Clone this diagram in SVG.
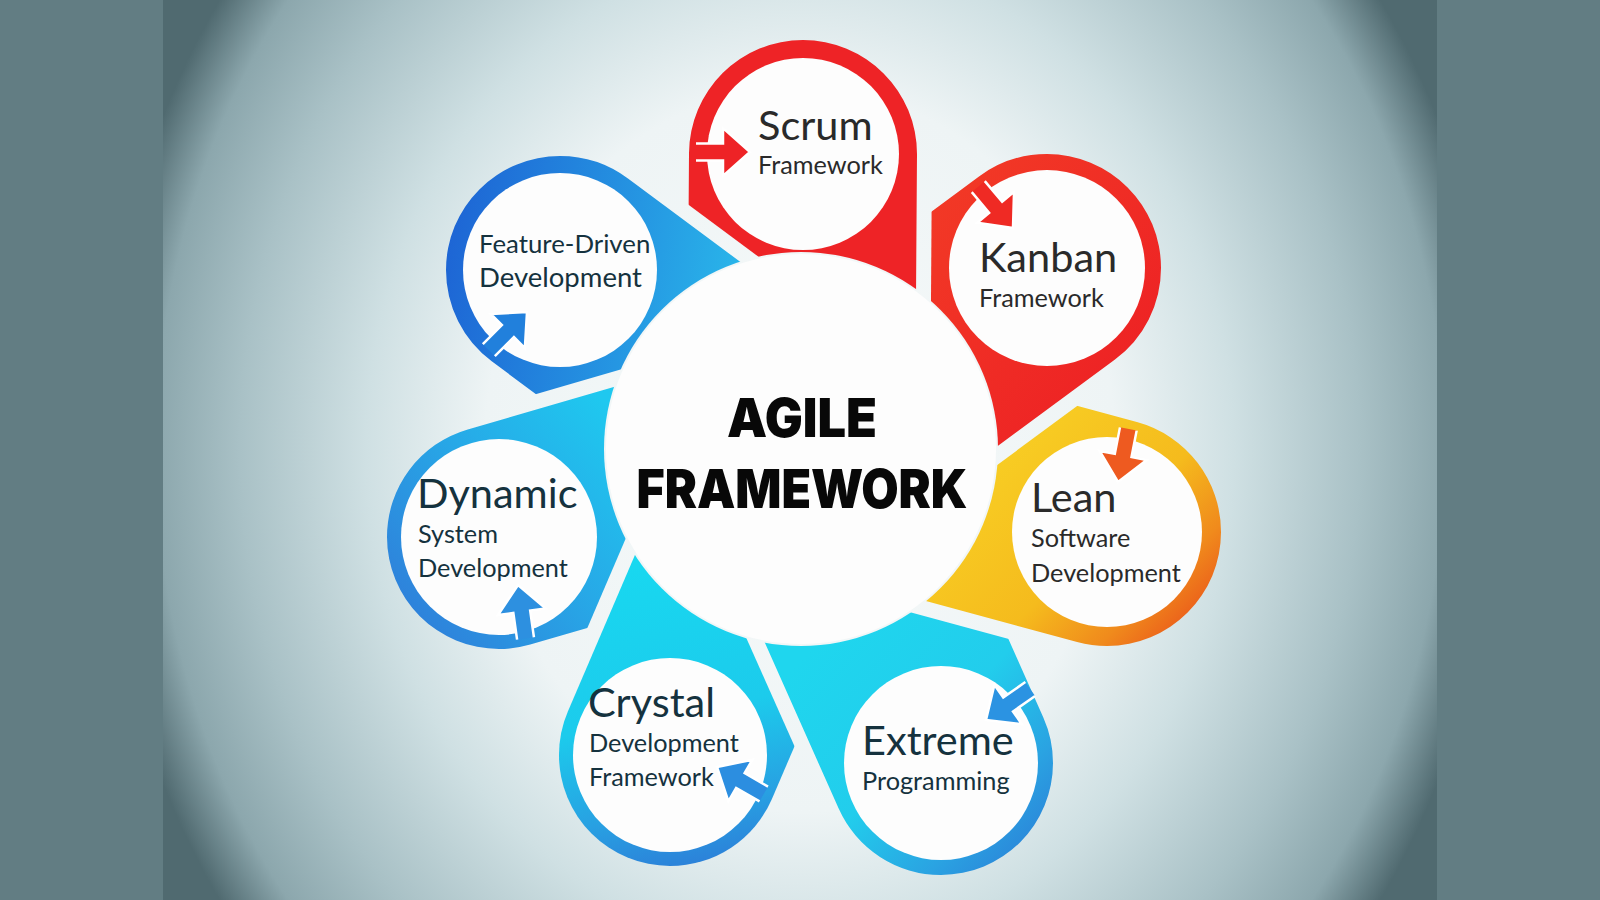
<svg xmlns="http://www.w3.org/2000/svg" width="1600" height="900" viewBox="0 0 1600 900">
<style>
.t1{font-family:Lato,"Liberation Sans",sans-serif;font-size:41.5px;}
.t2{font-family:Lato,"Liberation Sans",sans-serif;font-size:25.3px;}
.dk{fill:#2a2a2a;}
.bl{fill:#15323e;}
.title{font-family:Inter,Roboto,"DejaVu Sans",sans-serif;font-weight:900;font-size:54px;fill:#080808;text-anchor:middle;}
.inner{fill:#fdfdfd;}
.arr{stroke:#ffffff;stroke-width:2.5;stroke-linejoin:miter;}
</style>
<defs>
<radialGradient id="bg" gradientUnits="userSpaceOnUse" cx="800" cy="450" r="700" gradientTransform="translate(800 450) scale(1 1.15) translate(-800 -450)">
<stop offset="0" stop-color="#f7fafa"/>
<stop offset="0.45" stop-color="#eef4f5"/>
<stop offset="0.62" stop-color="#cfe0e3"/>
<stop offset="0.8" stop-color="#a9c1c6"/>
<stop offset="0.92" stop-color="#8ca7ad"/>
<stop offset="1" stop-color="#506a70"/>
</radialGradient>
<linearGradient id="g-kanban" gradientUnits="userSpaceOnUse" x1="930" y1="180" x2="1160" y2="380"><stop offset="0" stop-color="#f23a26"/><stop offset="1" stop-color="#ed2024"/></linearGradient>
<linearGradient id="g-lean" gradientUnits="userSpaceOnUse" x1="990" y1="440" x2="1200" y2="650"><stop offset="0" stop-color="#f8cf24"/><stop offset="0.5" stop-color="#f5bb1d"/><stop offset="0.75" stop-color="#f08a1c"/><stop offset="1" stop-color="#e8441a"/></linearGradient>
<linearGradient id="g-extreme" gradientUnits="userSpaceOnUse" x1="820" y1="640" x2="1050" y2="860"><stop offset="0" stop-color="#1fd6ee"/><stop offset="0.45" stop-color="#22cdec"/><stop offset="0.75" stop-color="#2aa3e2"/><stop offset="1" stop-color="#2b7bd6"/></linearGradient>
<linearGradient id="g-crystal" gradientUnits="userSpaceOnUse" x1="640" y1="560" x2="700" y2="870"><stop offset="0" stop-color="#18d8f0"/><stop offset="0.5" stop-color="#1ccbec"/><stop offset="0.8" stop-color="#28a0e2"/><stop offset="1" stop-color="#2c7ed8"/></linearGradient>
<linearGradient id="g-dynamic" gradientUnits="userSpaceOnUse" x1="620" y1="420" x2="390" y2="620"><stop offset="0" stop-color="#1fc8ef"/><stop offset="0.45" stop-color="#27a9e7"/><stop offset="1" stop-color="#2f7cd9"/></linearGradient>
<linearGradient id="g-feature" gradientUnits="userSpaceOnUse" x1="760" y1="280" x2="440" y2="230"><stop offset="0" stop-color="#2abbeb"/><stop offset="0.4" stop-color="#2596e2"/><stop offset="1" stop-color="#1d63d4"/></linearGradient>

<mask id="cm" maskUnits="userSpaceOnUse" x="0" y="0" width="1600" height="900">
<rect x="0" y="0" width="1600" height="900" fill="#fff"/>
<circle cx="801" cy="449" r="197" fill="#000"/>
</mask>

<!-- petal shapes: circle + tail strip toward center -->
<clipPath id="s-scrum" clipPathUnits="userSpaceOnUse"><circle cx="803" cy="154" r="114"/><rect x="-114" y="0" width="228" height="335" transform="translate(803 154) rotate(0.4)"/></clipPath>
<clipPath id="s-kanban" clipPathUnits="userSpaceOnUse"><circle cx="1047" cy="268" r="114"/><rect x="-114" y="0" width="228" height="345" transform="translate(1047 268) rotate(53.6)"/></clipPath>
<clipPath id="s-lean" clipPathUnits="userSpaceOnUse"><circle cx="1107" cy="532" r="114"/><rect x="-114" y="0" width="228" height="357" transform="translate(1107 532) rotate(105.2)"/></clipPath>
<clipPath id="s-extreme" clipPathUnits="userSpaceOnUse"><circle cx="941" cy="763" r="112"/><rect x="-112" y="0" width="224" height="384" transform="translate(941 763) rotate(156)"/></clipPath>
<clipPath id="s-crystal" clipPathUnits="userSpaceOnUse"><circle cx="670" cy="755" r="111"/><rect x="-111" y="0" width="222" height="373" transform="translate(670 755) rotate(203.2)"/></clipPath>
<clipPath id="s-dynamic" clipPathUnits="userSpaceOnUse"><circle cx="499" cy="537" r="112"/><rect x="-112" y="0" width="224" height="355" transform="translate(499 537) rotate(253.8)"/></clipPath>
<clipPath id="s-feature" clipPathUnits="userSpaceOnUse"><circle cx="560" cy="270" r="114"/><rect x="-114" y="0" width="228" height="340" transform="translate(560 270) rotate(306.6)"/></clipPath>

<!-- half-planes beyond the previous petal's tangent edge (white separators) -->
<clipPath id="h-scrum" clipPathUnits="userSpaceOnUse"><rect x="129" y="-1500" width="3000" height="3000" transform="translate(560 270) rotate(306.6)"/></clipPath>
<clipPath id="h-kanban" clipPathUnits="userSpaceOnUse"><rect x="129" y="-1500" width="3000" height="3000" transform="translate(803 154) rotate(0.4)"/></clipPath>
<clipPath id="h-lean" clipPathUnits="userSpaceOnUse"><rect x="129" y="-1500" width="3000" height="3000" transform="translate(1047 268) rotate(53.6)"/></clipPath>
<clipPath id="h-extreme" clipPathUnits="userSpaceOnUse"><rect x="129" y="-1500" width="3000" height="3000" transform="translate(1107 532) rotate(105.2)"/></clipPath>
<clipPath id="h-crystal" clipPathUnits="userSpaceOnUse"><rect x="127" y="-1500" width="3000" height="3000" transform="translate(941 763) rotate(156)"/></clipPath>
<clipPath id="h-dynamic" clipPathUnits="userSpaceOnUse"><rect x="126" y="-1500" width="3000" height="3000" transform="translate(670 755) rotate(203.2)"/></clipPath>
<clipPath id="h-feature" clipPathUnits="userSpaceOnUse"><rect x="127" y="-1500" width="3000" height="3000" transform="translate(499 537) rotate(253.8)"/></clipPath>

<path id="arrow" d="M -54,-8.5 L -27,-8.5 L -27,-24 L 0,0 L -27,24 L -27,8.5 L -54,8.5"/>
</defs>

<!-- background -->
<rect x="0" y="0" width="1600" height="900" fill="#627d83"/>
<rect x="163" y="0" width="1274" height="900" fill="url(#bg)"/>

<g id="connectors"></g>

<g id="node-scrum">
<g clip-path="url(#h-scrum)"><g clip-path="url(#s-scrum)" mask="url(#cm)"><rect x="0" y="0" width="1600" height="900" fill="#ee2326"/></g></g>
<circle class="inner" cx="803" cy="154" r="96"/>
<use href="#arrow" class="arr" fill="#ee2326" transform="translate(750 152) rotate(0)"/>
<text class="t1 dk" x="758" y="140">Scrum</text>
<text class="t2 dk" x="758" y="174">Framework</text>
</g>

<g id="node-kanban">
<g clip-path="url(#h-kanban)"><g clip-path="url(#s-kanban)" mask="url(#cm)"><rect x="0" y="0" width="1600" height="900" fill="url(#g-kanban)"/></g></g>
<circle class="inner" cx="1047" cy="268" r="98"/>
<use href="#arrow" class="arr" fill="#ef2a24" transform="translate(1013 228) rotate(50)"/>
<text class="t1 dk" x="979" y="272">Kanban</text>
<text class="t2 dk" x="979" y="307">Framework</text>
</g>

<g id="node-lean">
<g clip-path="url(#h-lean)"><g clip-path="url(#s-lean)" mask="url(#cm)"><rect x="0" y="0" width="1600" height="900" fill="url(#g-lean)"/></g></g>
<circle class="inner" cx="1107" cy="532" r="95"/>
<use href="#arrow" class="arr" fill="#ee5a20" transform="translate(1118 482) rotate(101)"/>
<text class="t1 dk" x="1031" y="512">Lean</text>
<text class="t2 dk" x="1031" y="547">Software</text>
<text class="t2 dk" x="1031" y="582">Development</text>
</g>

<g id="node-extreme">
<g clip-path="url(#h-extreme)"><g clip-path="url(#s-extreme)" mask="url(#cm)"><rect x="0" y="0" width="1600" height="900" fill="url(#g-extreme)"/></g></g>
<circle class="inner" cx="941" cy="763" r="97"/>
<use href="#arrow" class="arr" fill="#2b93e2" transform="translate(986 720) rotate(145)"/>
<text class="t1 bl" x="862" y="755">Extreme</text>
<text class="t2 bl" x="862" y="790">Programming</text>
</g>

<g id="node-crystal">
<g clip-path="url(#h-crystal)"><g clip-path="url(#s-crystal)" mask="url(#cm)"><rect x="0" y="0" width="1600" height="900" fill="url(#g-crystal)"/></g></g>
<circle class="inner" cx="670" cy="755" r="97"/>
<use href="#arrow" class="arr" fill="#2c8ee0" transform="translate(717 767) rotate(210)"/>
<text class="t1 bl" x="588" y="717">Crystal</text>
<text class="t2 bl" x="589" y="752">Development</text>
<text class="t2 bl" x="589" y="786">Framework</text>
</g>

<g id="node-dynamic">
<g clip-path="url(#h-dynamic)"><g clip-path="url(#s-dynamic)" mask="url(#cm)"><rect x="0" y="0" width="1600" height="900" fill="url(#g-dynamic)"/></g></g>
<circle class="inner" cx="499" cy="537" r="98"/>
<use href="#arrow" class="arr" fill="#2d90e0" transform="translate(518 585) rotate(262)"/>
<text class="t1 bl" x="417" y="508">Dynamic</text>
<text class="t2 bl" x="418" y="543">System</text>
<text class="t2 bl" x="418" y="577">Development</text>
</g>

<g id="node-feature">
<g clip-path="url(#h-feature)"><g clip-path="url(#s-feature)" mask="url(#cm)"><rect x="0" y="0" width="1600" height="900" fill="url(#g-feature)"/></g></g>
<circle class="inner" cx="560" cy="270" r="97"/>
<use href="#arrow" class="arr" fill="#2180dc" transform="translate(527 312) rotate(-45)"/>
<text class="t2 bl" x="479" y="253" style="font-size:25.8px">Feature-Driven</text>
<text class="t2 bl" x="479" y="287" style="font-size:27.5px">Development</text>
</g>

<g id="node-agile">
<circle cx="801" cy="449" r="195" fill="#fdfdfd"/>
<text class="title" x="802" y="437" textLength="150" lengthAdjust="spacingAndGlyphs">AGILE</text>
<text class="title" x="802" y="508" textLength="331" lengthAdjust="spacingAndGlyphs">FRAMEWORK</text>
</g>
</svg>
